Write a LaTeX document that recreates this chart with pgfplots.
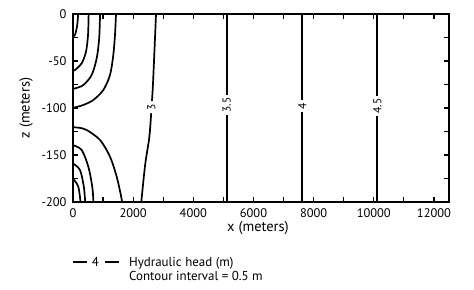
\documentclass[border=0pt]{standalone}
\usepackage{pgfplots}
\pgfplotsset{compat=1.18}
\usepackage{fontspec}
\setmainfont{PT Sans}
\begin{document}
\begin{tikzpicture}
\path[use as bounding box] (-73bp,-88bp) rectangle (401bp,202bp);
\begin{axis}[
  at={(0,0)}, anchor=south west,
  scale only axis, width=376bp, height=188bp,
  xmin=0, xmax=12500, ymin=-200, ymax=0,
  scaled ticks=false,
  xtick={0,2000,...,12000}, minor xtick={1000,3000,...,11000},
  ytick={0,-50,-100,-150,-200}, minor ytick={-25,-75,-125,-175},
  tick align=inside,
  major tick length=5bp, minor tick length=5bp,
  every tick/.style={black, line width=1.2bp},
  axis line style={line width=1.5bp},
  /pgf/number format/assume math mode=true,
  /pgf/number format/1000 sep={},
  ticklabel style={font=\fontsize{12.5}{14}\selectfont},
  xticklabel style={anchor=center, yshift=-11bp},
  yticklabel style={anchor=east, xshift=-3bp},
  xlabel={x (meters)}, ylabel={z (meters)},
  label style={font=\fontsize{14.5}{16}\selectfont},
  xlabel style={at={(axis description cs:0.492,-0.14)}, anchor=center},
  ylabel style={at={(axis description cs:-0.125,0.5)}, anchor=center, rotate=0},
  clip=true,
  cont/.style={black, no markers, line width=1.7bp},
]
% contour 3
\addplot[cont, smooth] coordinates {(2760,0) (2700,-45) (2650,-80) (2610,-99) (2580,-115) (2526,-134) (2400,-160) (2270,-200)};
% contours 3.5, 4, 4.5
\addplot[cont] coordinates {(5110,0) (5110,-200)};
\addplot[cont] coordinates {(7624,0) (7624,-200)};
\addplot[cont] coordinates {(10117,0) (10117,-200)};
% upper-left contours
\addplot[cont, smooth] coordinates {(1430,0) (1396,-22.3) (1340,-43.6) (1230,-64.9) (1007,-80.9) (675,-91.5) (342,-96.8) (66,-99.3) (0,-99.5)};
\addplot[cont, smooth] coordinates {(900,0) (870,-25.9) (788,-47.1) (621,-64.9) (342,-75.6) (66,-79.2) (0,-79.5)};
\addplot[cont, smooth] coordinates {(520,0) (500,-22.3) (432,-40.1) (289,-52.4) (66,-59.6) (0,-60)};
\addplot[cont, smooth] coordinates {(170,0) (140,-12) (70,-22) (0,-24.5)};
% lower-left contours
\addplot[cont, smooth] coordinates {(0,-120.5) (200,-121) (455,-123.4) (898,-134) (1230,-151.8) (1453,-173.1) (1600,-194) (1630,-200)};
\addplot[cont, smooth] coordinates {(0,-139.5) (289,-144.7) (509,-162.4) (640,-183.7) (680,-200)};
\addplot[cont, smooth] coordinates {(0,-159) (233,-166) (360,-183.7) (405,-200)};
\addplot[cont, smooth] coordinates {(0,-175) (176,-183.7) (250,-200)};
% contour labels
\tikzset{clab/.style={rotate=90, fill=white, inner xsep=2.5bp, inner ysep=0.5bp, font=\fontsize{11.5}{12}\selectfont}}
\node[clab] at (axis cs:2610,-99) {3};
\node[clab] at (axis cs:5110,-97) {3.5};
\node[clab] at (axis cs:7624,-98) {4};
\node[clab] at (axis cs:10117,-98) {4.5};
\end{axis}
% legend
\draw[line width=1.7bp] (0.5bp,-59.7bp) -- (14bp,-59.7bp);
\node[anchor=base, inner sep=0pt, font=\fontsize{13}{15}\selectfont] at (22.5bp,-64.7bp) {4};
\draw[line width=1.7bp] (32bp,-59.7bp) -- (46bp,-59.7bp);
\node[anchor=base west, inner sep=0pt, font=\fontsize{13}{15}\selectfont] at (56bp,-64.7bp) {Hydraulic head (m)};
\node[anchor=base west, inner sep=0pt, font=\fontsize{13}{15}\selectfont] at (56bp,-78.7bp) {Contour interval = 0.5 m};
\end{tikzpicture}
\end{document}
